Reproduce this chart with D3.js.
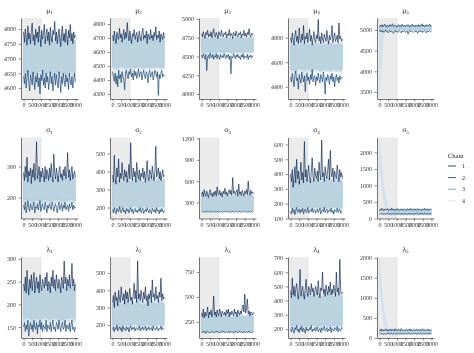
<!DOCTYPE html>
<html>
<head>
<meta charset="utf-8">
<script src="https://cdn.jsdelivr.net/npm/d3@7"></script>
<style>
  body { margin: 0; background: #fff; }
  svg { display: block; font-family: "Liberation Serif", "DejaVu Serif", serif; will-change: transform; }
  text { text-rendering: geometricPrecision; }
</style>
</head>
<body>
<svg id="chart" width="474" height="353"></svg>
<script>
const width = 474;
const height = 353;

// chains and colours (bayesplot "blue" scheme)
const chainNames = ["1", "2", "3", "4"];
const chainColors = ["#011f4b", "#03396c", "#6497b1", "#d1e1ec"];

const nIter = 3000;
const nWarmup = 1000;
const xTicks = [0, 500, 1000, 1500, 2000, 2500, 3000];

// panel titles: [greek letter, subscript]
const titles = [["μ","1"],["μ","2"],["μ","3"],["μ","4"],["μ","5"],
                ["σ","1"],["σ","2"],["σ","3"],["σ","4"],["σ","5"],
                ["λ","1"],["λ","2"],["λ","3"],["λ","4"],["λ","5"]];

// y limits of each panel (free scales)
const yLims = [[4563,4837],[4264,4843],[3933,5013],[4300,4961],[3331,5290],
               [132,394],[139,589],[75,1214],[100,647],[0,2450],
               [126,304],[125,592],[90,900],[137,707],[0,2020]];

const yTicks = [[4600,4650,4700,4750,4800],[4300,4400,4500,4600,4700,4800],[4000,4250,4500,4750,5000],[4400,4600,4800],[3500,4000,4500,5000],
                [200,300],[200,300,400,500],[300,600,900,1200],[100,200,300,400,500,600],[0,500,1000,1500,2000],
                [150,200,250,300],[200,300,400,500],[250,500,750],[200,300,400,500,600,700],[0,500,1000,1500,2000]];

// chains 1,2: draws every 50 iterations
// chains 3,4: [low, high] envelope every 250 iterations (fast switching between modes)
const mu1 = [
  [4790,4755,4800,4770,4745,4810,4765,4785,4750,4795,4820,4760,4780,4745,4800,4770,4790,4755,4810,4775,4740,4795,4765,4785,4815,4750,4780,4800,4760,4790,4745,4805,4770,4755,4795,4780,4825,4760,4790,4750,4775,4800,4765,4740,4790,4810,4760,4785,4755,4800,4775,4745,4795,4770,4815,4760,4785,4750,4790,4770,4780],
  [4640,4615,4650,4600,4635,4660,4620,4590,4645,4630,4610,4655,4625,4595,4640,4620,4650,4605,4635,4580,4645,4625,4660,4610,4635,4600,4650,4620,4640,4595,4630,4655,4615,4640,4590,4625,4650,4610,4645,4620,4600,4655,4630,4585,4640,4615,4650,4625,4605,4645,4620,4635,4595,4650,4625,4610,4640,4600,4630,4650,4620],
  [[4652,4657,4646,4650,4660,4648,4653,4645,4656,4650,4647,4654,4651],[4758,4765,4756,4770,4761,4759,4767,4754,4763,4769,4758,4764,4760]],
  [[4640,4645,4634,4641,4648,4637,4643,4635,4646,4640,4637,4643,4641],[4776,4781,4770,4786,4774,4772,4781,4768,4777,4783,4773,4779,4772]]
];
const mu2 = [
  [4720,4680,4750,4700,4660,4740,4710,4690,4770,4700,4730,4670,4720,4760,4690,4740,4700,4810,4720,4680,4750,4700,4660,4730,4710,4760,4690,4720,4740,4670,4710,4750,4700,4680,4730,4770,4690,4720,4700,4750,4660,4730,4710,4690,4760,4700,4720,4680,4740,4710,4780,4690,4720,4700,4750,4670,4730,4710,4690,4740,4700],
  [4460,4420,4390,4450,4370,4430,4350,4470,4410,4440,4380,4460,4420,4400,4330,4450,4470,4430,4410,4460,4440,4480,4420,4450,4400,4470,4430,4460,4410,4440,4480,4420,4450,4460,4400,4440,4470,4430,4410,4460,4440,4380,4450,4470,4420,4440,4460,4400,4430,4470,4450,4420,4460,4290,4440,4410,4450,4470,4420,4440,4430],
  [[4492,4485,4500,4488,4495,4490,4498,4486,4494,4489,4497,4491,4493],[4688,4695,4683,4700,4690,4686,4697,4684,4692,4699,4687,4694,4690]],
  [[4476,4470,4484,4472,4480,4474,4483,4470,4479,4473,4482,4475,4478],[4708,4714,4702,4720,4709,4705,4716,4703,4711,4718,4706,4713,4709]]
];
const mu3 = [
  [4800,4760,4830,4780,4740,4820,4790,4850,4760,4800,4770,4830,4750,4810,4870,4780,4760,4820,4790,4740,4830,4800,4770,4850,4780,4760,4810,4790,4830,4750,4800,4780,4860,4770,4810,4790,4740,4820,4800,4770,4840,4780,4760,4810,4790,4830,4750,4800,4780,4850,4770,4810,4760,4820,4790,4870,4780,4760,4810,4790,4800],
  [4520,4480,4540,4500,4460,4530,4310,4490,4520,4470,4550,4500,4480,4530,4460,4510,4490,4540,4470,4520,4500,4460,4530,4490,4510,4480,4540,4500,4470,4520,4490,4530,4460,4510,4270,4500,4480,4540,4510,4470,4520,4490,4530,4480,4500,4460,4520,4490,4540,4470,4510,4500,4480,4530,4460,4510,4490,4520,4480,4500,4510],
  [[4562,4555,4570,4558,4566,4560,4568,4556,4564,4559,4567,4561,4563],[4738,4745,4732,4750,4740,4736,4747,4733,4742,4749,4737,4744,4740]],
  [[4545,4540,4552,4538,4548,4541,4550,4537,4546,4540,4549,4542,4545],[4758,4764,4752,4770,4760,4756,4767,4753,4762,4769,4757,4764,4760]]
];
const mu4 = [
  [4800,4760,4840,4780,4740,4820,4860,4770,4810,4750,4880,4790,4760,4830,4780,4900,4750,4810,4790,4840,4760,4800,4870,4770,4820,4740,4790,4850,4780,4760,4820,4790,4950,4770,4810,4750,4840,4790,4760,4830,4800,4770,4860,4790,4750,4820,4780,4810,4900,4760,4800,4840,4770,4790,4820,4760,4920,4790,4810,4770,4790],
  [4480,4440,4510,4460,4400,4490,4530,4450,4470,4380,4500,4460,4430,4520,4470,4440,4490,4360,4470,4510,4450,4480,4420,4500,4460,4540,4440,4470,4490,4410,4480,4450,4510,4460,4430,4500,4470,4440,4520,4460,4340,4480,4450,4500,4470,4420,4490,4460,4510,4440,4480,4400,4470,4500,4450,4480,4430,4490,4460,4470,4480],
  [[4542,4535,4550,4538,4546,4540,4548,4536,4544,4539,4547,4541,4543],[4738,4745,4732,4750,4740,4736,4747,4733,4742,4749,4737,4744,4740]],
  [[4522,4515,4530,4518,4526,4520,4528,4516,4524,4519,4527,4521,4523],[4758,4765,4752,4770,4760,4756,4767,4753,4762,4769,4757,4764,4760]]
];
const mu5 = [
  [5070,5110,5090,5130,5080,5100,5140,5090,5070,5120,5100,5080,5130,5090,5110,5150,5080,5100,5120,5090,5070,5110,5130,5090,5100,5080,5140,5100,5090,5120,5080,5110,5100,5130,5090,5070,5120,5100,5140,5090,5110,5080,5120,5100,5090,5130,5080,5110,5100,5150,5090,5120,5080,5100,5130,5090,5110,5100,5140,5090,5100],
  [5000,4960,4990,4950,4980,4940,4970,5000,4960,4980,4930,4970,4990,4950,4980,4960,4920,4970,4990,4950,4980,4940,4970,4990,4960,4930,4980,4950,4970,4990,4940,4960,4980,4900,4970,4990,4950,4980,4960,4940,4970,4990,4950,4980,4920,4970,4960,4990,4950,4980,4940,4970,4990,4960,4930,4980,4950,4970,4990,4960,4970],
  [[4960,5005,5012,5006,5014,5008,5011,5004,5013,5007,5010,5005,5009],[5100,5088,5094,5085,5096,5090,5087,5095,5089,5093,5086,5097,5090]],
  [[3420,4950,4995,4990,5000,4994,4998,4990,5001,4993,4997,4991,4996],[5120,5105,5108,5100,5112,5104,5101,5110,5103,5107,5100,5111,5104]]
];
const sigma1 = [
  [280,255,300,265,330,250,285,270,295,245,290,265,310,255,280,380,260,275,300,250,285,265,295,270,250,300,260,290,275,255,295,265,310,270,250,340,280,260,295,270,250,285,300,265,275,255,290,270,300,260,280,345,265,290,255,280,300,260,275,285,265],
  [175,160,185,150,170,190,165,155,180,170,160,175,185,150,170,165,180,160,175,190,155,170,180,165,160,185,170,150,175,165,180,170,160,185,175,155,170,180,165,150,175,185,160,170,180,155,175,165,185,160,170,175,155,180,165,170,185,160,175,165,170],
  [[190,194,186,192,189,195,187,191,193,188,190,194,189],[258,263,254,266,259,256,264,253,261,267,257,262,259]],
  [[181,185,178,183,180,186,179,182,184,179,181,185,180],[270,275,266,278,271,268,276,265,273,279,269,274,271]]
];
const sigma2 = [
  [380,340,490,360,330,420,370,470,340,390,360,450,380,350,410,370,400,340,380,440,360,560,390,350,420,370,400,340,450,380,360,410,350,390,370,420,360,400,340,380,460,370,350,410,390,360,430,380,350,400,540,370,390,420,360,400,350,380,410,370,380],
  [190,170,200,180,165,195,185,175,205,180,170,190,200,175,185,165,195,180,190,170,185,200,175,190,165,185,195,175,185,170,190,180,200,170,185,195,165,180,190,175,200,185,170,190,180,165,195,185,175,190,170,200,180,185,165,190,175,195,180,170,185],
  [[205,210,200,207,203,211,201,206,209,202,205,210,204],[345,352,338,358,346,341,355,337,349,357,343,351,346]],
  [[194,198,189,196,192,200,190,195,198,191,194,199,193],[362,370,355,376,364,358,372,354,366,375,360,369,363]]
];
const sigma3 = [
  [400,450,380,480,420,390,460,410,370,440,480,400,430,380,450,410,460,390,520,430,410,470,400,440,380,460,420,500,410,450,390,440,480,420,470,400,650,430,460,410,440,480,390,560,420,450,400,470,430,390,460,420,480,410,600,440,400,470,420,450,430],
  [170,165,175,168,172,160,175,168,170,165,178,162,170,175,165,172,168,160,175,170,165,172,168,175,162,170,168,175,165,172,170,166,174,160,171,169,176,163,170,167,173,165,171,168,175,162,170,166,172,169,175,164,170,167,173,166,171,169,176,164,170],
  [[186,182,190,184,188,183,189,182,187,184,189,183,186],[388,398,380,405,392,384,400,378,394,404,386,397,390]],
  [[178,174,182,176,180,175,181,174,179,176,181,175,178],[410,420,400,428,412,405,422,398,415,426,407,418,411]]
];
const sigma4 = [
  [400,350,430,310,380,450,340,500,370,420,330,390,480,360,410,340,620,380,430,350,400,460,370,340,420,510,380,350,440,390,370,420,350,480,400,360,630,380,410,350,450,390,370,430,500,360,560,400,380,440,350,420,390,370,460,400,350,430,380,410,370],
  [150,130,170,140,160,125,155,175,140,150,165,135,160,145,170,130,155,165,140,150,175,135,155,160,145,170,140,155,160,135,150,165,140,155,170,130,150,160,145,175,140,155,165,135,150,160,145,170,140,155,130,160,150,145,170,140,155,165,135,150,150],
  [[176,172,180,174,178,171,179,173,177,174,180,172,176],[350,358,342,365,352,345,360,340,355,363,347,357,351]],
  [[166,162,170,164,168,161,169,163,167,164,170,162,166],[370,378,362,386,372,365,380,360,375,383,367,377,371]]
];
const sigma5 = [
  [230,280,250,310,260,240,290,255,270,300,245,265,280,250,320,260,275,240,290,260,250,305,270,245,280,260,295,250,270,285,260,240,300,265,280,250,310,270,245,285,260,295,255,275,300,250,270,290,260,245,285,270,310,255,275,290,250,280,265,295,260],
  [120,150,130,160,140,125,150,135,145,160,130,140,155,125,145,150,135,160,140,130,150,145,135,155,140,130,150,145,135,150,140,155,130,145,160,135,150,140,125,155,145,135,150,160,140,130,150,145,135,155,140,130,160,145,135,150,140,155,130,145,140],
  [[150,112,118,110,116,113,119,111,117,114,118,112,116],[300,262,255,268,258,264,256,266,259,263,257,265,260]],
  [[1500,480,104,100,108,98,106,102,107,99,105,103,101],[2300,950,280,276,284,272,281,275,283,270,279,285,277]]
];
const lambda1 = [
  [245,230,260,225,275,240,220,255,235,265,230,250,270,225,245,260,235,250,225,265,240,230,255,245,235,260,240,270,230,250,245,225,260,240,275,235,255,230,265,245,235,255,240,225,260,250,235,295,245,260,230,255,240,265,235,250,290,240,255,230,245],
  [150,160,140,155,145,165,130,150,160,145,155,140,165,150,145,160,135,155,150,165,145,160,140,155,150,145,165,140,155,150,145,160,140,155,165,145,150,140,160,155,145,165,150,140,155,160,145,150,165,140,155,150,145,160,140,155,165,145,150,140,150],
  [[168,172,165,170,167,173,166,171,169,165,170,172,167],[232,236,228,238,233,230,237,227,234,239,231,235,232]],
  [[160,164,157,162,159,165,158,163,161,157,162,164,159],[240,244,236,246,241,238,245,235,242,247,239,243,240]]
];
const lambda2 = [
  [330,370,300,390,340,360,310,400,350,330,420,360,340,380,320,400,350,390,330,370,410,340,360,320,380,440,350,400,330,570,350,380,340,400,360,330,390,350,420,340,370,310,380,350,400,330,460,360,380,340,420,350,370,330,390,360,470,340,380,350,360],
  [170,190,160,185,175,200,165,180,190,170,185,160,195,175,180,165,190,175,185,160,180,195,170,185,175,190,165,180,185,170,180,195,165,185,175,190,170,180,195,165,185,175,190,170,180,185,165,195,175,180,170,190,185,165,180,175,195,170,185,180,175],
  [[200,205,196,203,199,207,197,202,205,198,201,206,200],[320,328,313,334,322,317,331,312,325,333,318,327,321]],
  [[190,194,186,193,189,197,187,192,195,188,191,196,190],[335,343,328,350,337,332,346,327,340,348,333,342,336]]
];
const lambda3 = [
  [340,300,380,290,350,310,330,400,290,350,320,370,300,340,510,320,350,300,370,330,310,380,340,300,360,330,320,350,310,370,330,380,300,350,320,360,340,310,380,330,350,300,370,340,320,360,330,390,420,350,530,340,380,480,330,360,310,350,340,320,350],
  [150,140,160,145,155,135,150,160,145,150,140,155,160,145,150,140,155,150,160,145,150,140,155,150,145,160,150,140,155,150,145,155,140,160,150,145,155,135,150,160,145,155,140,150,160,145,155,150,140,160,145,150,155,140,150,160,145,150,140,155,150],
  [[165,161,169,163,167,160,168,162,166,163,169,161,165],[300,308,292,315,302,295,311,290,305,313,297,307,301]],
  [[155,151,159,153,157,150,158,152,156,153,159,151,155],[320,328,312,336,322,315,331,310,325,334,317,327,321]]
];
const lambda4 = [
  [470,420,560,440,500,430,480,520,450,410,480,620,430,470,500,440,410,480,550,460,430,500,470,440,520,460,490,430,460,500,470,440,540,460,420,490,470,600,450,480,430,510,470,440,500,460,530,440,480,450,510,470,430,600,460,490,440,690,470,450,460],
  [200,180,215,190,170,210,195,225,185,200,175,210,190,220,180,205,195,170,215,190,200,185,210,195,225,180,200,190,210,185,200,215,180,195,205,175,210,190,200,220,185,195,210,180,200,190,215,175,205,195,185,210,200,190,220,180,205,195,185,210,200],
  [[225,230,220,228,223,232,221,227,231,222,226,230,224],[430,440,420,448,433,425,444,418,436,446,428,439,432]],
  [[210,215,205,213,208,217,206,212,216,207,211,215,209],[450,460,440,468,452,445,464,438,456,466,448,459,451]]
];
const lambda5 = [
  [200,170,220,180,210,175,195,230,185,205,170,215,190,225,180,200,210,175,230,190,205,180,220,195,175,235,200,185,210,190,200,220,180,205,195,230,175,210,190,200,215,185,200,225,180,205,190,215,175,200,230,190,210,185,205,195,220,180,210,195,200],
  [110,95,120,100,105,90,115,100,95,110,105,120,95,100,110,90,105,115,100,95,110,100,120,95,105,110,100,90,105,115,100,110,95,105,120,100,90,110,105,95,115,100,110,95,105,120,100,95,110,105,90,115,100,110,95,105,100,115,95,105,100],
  [[130,112,108,114,110,115,109,113,111,116,110,114,112],[240,190,185,194,188,195,186,192,189,196,187,193,190]],
  [[1300,340,102,98,106,95,104,100,105,97,103,107,99],[1920,700,195,190,198,186,194,191,197,188,193,199,190]]
];

const panelData = [mu1, mu2, mu3, mu4, mu5, sigma1, sigma2, sigma3, sigma4, sigma5,
                   lambda1, lambda2, lambda3, lambda4, lambda5];

// layout
const left0 = 21, top0 = 18;
const colStep = 89, rowStep = 119.5;
const panelW = 57, panelH = 81;
const tickFont = 6;

const svg = d3.select("#chart");

panelData.forEach((chains, i) => {
  const col = i % 5, row = Math.floor(i / 5);
  const g = svg.append("g")
    .attr("transform", "translate(" + (left0 + col * colStep) + "," + (top0 + row * rowStep) + ")");

  // ggplot style 5% expansion of 1..3000
  const xScale = d3.scaleLinear()
    .domain([1 - 0.05 * (nIter - 1), nIter + 0.05 * (nIter - 1)])
    .range([0, panelW]);
  const yScale = d3.scaleLinear().domain(yLims[i]).range([panelH, 0]);

  // warmup region
  g.append("rect")
    .attr("x", 0).attr("y", 0)
    .attr("width", xScale(nWarmup)).attr("height", panelH)
    .attr("fill", "#ebebeb");
  g.append("line")
    .attr("x1", xScale(nWarmup)).attr("x2", xScale(nWarmup))
    .attr("y1", 0).attr("y2", panelH)
    .attr("stroke", "#d4d4d4").attr("stroke-width", 0.6);

  // chains 4 then 3 as filled envelopes
  [3, 2].forEach(k => {
    const env = chains[k];
    const step = nIter / (env[0].length - 1);
    const area = d3.area()
      .x((d, j) => xScale(j * step))
      .y0((d, j) => yScale(env[0][j]))
      .y1((d, j) => yScale(env[1][j]));
    g.append("path")
      .datum(env[0])
      .attr("d", area)
      .attr("fill", chainColors[k])
      .attr("fill-opacity", k === 3 ? 1 : 0.2)
      .attr("stroke", chainColors[k])
      .attr("stroke-opacity", k === 3 ? 1 : 0.35)
      .attr("stroke-width", 0.5);
  });

  // chains 2 then 1 as lines
  [1, 0].forEach(k => {
    const step = nIter / (chains[k].length - 1);
    const line = d3.line()
      .x((d, j) => xScale(j * step))
      .y(d => yScale(d));
    g.append("path")
      .datum(chains[k])
      .attr("d", line)
      .attr("fill", "none")
      .attr("stroke", chainColors[k])
      .attr("stroke-width", 0.65)
      .attr("stroke-linejoin", "round");
  });

  // axes
  const yAxis = d3.axisLeft(yScale)
    .tickValues(yTicks[i])
    .tickFormat(d3.format("d"))
    .tickSize(2.5).tickSizeOuter(0).tickPadding(2.5);
  const ya = g.append("g").call(yAxis);

  const xAxis = d3.axisBottom(xScale)
    .tickValues(xTicks)
    .tickFormat(d3.format("d"))
    .tickSize(2.5).tickSizeOuter(0).tickPadding(1.5);
  const xa = g.append("g").attr("transform", "translate(0," + panelH + ")").call(xAxis);

  [ya, xa].forEach(a => {
    a.attr("font-family", null).attr("font-size", tickFont);
    a.select(".domain").attr("stroke", "#222").attr("stroke-width", 0.6);
    a.selectAll(".tick line").attr("stroke", "#222").attr("stroke-width", 0.5);
    a.selectAll(".tick text").attr("fill", "#333");
  });

  // title
  const t = g.append("text")
    .attr("x", panelW / 2).attr("y", -5.5)
    .attr("text-anchor", "middle")
    .attr("font-size", 7.5)
    .attr("fill", "#222");
  t.append("tspan").text(titles[i][0]);
  t.append("tspan").attr("font-size", 5).attr("dy", 1.5).text(titles[i][1]);
});

// legend
const legend = svg.append("g").attr("transform", "translate(448,0)");
legend.append("text")
  .attr("x", 0).attr("y", 157.5)
  .attr("font-size", 6.5).attr("fill", "#222")
  .text("Chain");
chainNames.forEach((c, k) => {
  const yy = 166 + k * 11.6;
  legend.append("line")
    .attr("x1", 0).attr("x2", 8)
    .attr("y1", yy).attr("y2", yy)
    .attr("stroke", chainColors[k]).attr("stroke-width", 0.8);
  legend.append("text")
    .attr("x", 14).attr("y", yy)
    .attr("dy", "0.35em")
    .attr("font-size", 6).attr("fill", "#222")
    .text(c);
});
</script>
</body>
</html>
